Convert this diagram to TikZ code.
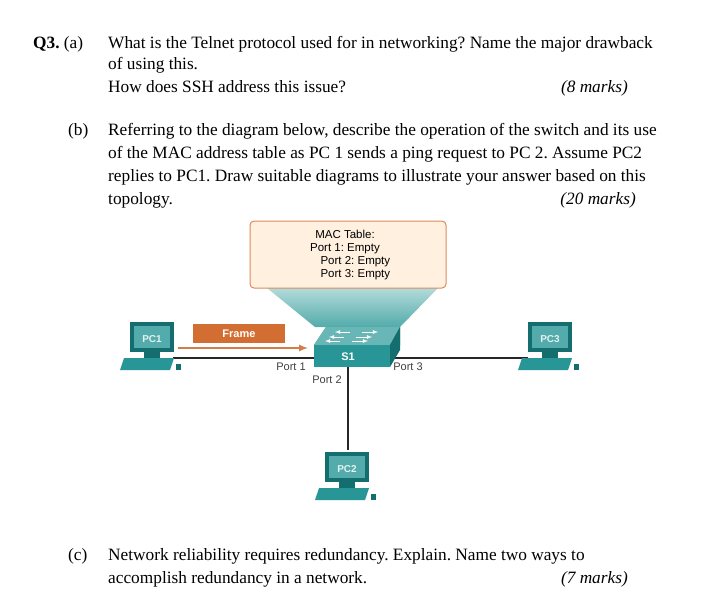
\documentclass[tikz,border=0pt]{standalone}
\usepackage{fontspec}
\setmainfont{Liberation Serif}
\newfontfamily\sansf{Liberation Sans}
\begin{document}
\frenchspacing
\begin{tikzpicture}[x=1pt,y=-1pt,
  q/.style={anchor=base west,inner sep=0,font=\fontsize{17.3}{20}\selectfont},
  mk/.style={anchor=base east,inner sep=0,font=\fontsize{17.3}{20}\selectfont\itshape},
  lbl/.style={font=\sansf\fontsize{11}{12}\selectfont,text=black!75,inner sep=0},
  pcl/.style={font=\sansf\bfseries\fontsize{10}{11}\selectfont,text=white!90!teal,inner sep=0}]
\definecolor{tl}{RGB}{40,150,150}
\definecolor{tld}{RGB}{20,110,112}
\definecolor{org}{RGB}{210,110,50}
\useasboundingbox (0,0) rectangle (723,600);
\fill[white] (0,0) rectangle (723,600);
% text
\node[q] (q3) at (33,48) {\textbf{Q3.} (a)};
\node[q] (a1) at (108,48) {What is the Telnet protocol used for in networking? Name the major drawback};
\node[q] (a2) at (108,69) {of using this.};
\node[q] (a3) at (108,92) {How does SSH address this issue?};
\node[mk] (m8) at (628,92) {(8 marks)};
\node[q] (bl) at (68,135) {(b)};
\node[q] (b1) at (108,135) {Referring to the diagram below, describe the operation of the switch and its use};
\node[q] (b2) at (108,158) {of the MAC address table as PC 1 sends a ping request to PC 2. Assume PC2};
\node[q] (b3) at (108,181) {replies to PC1. Draw suitable diagrams to illustrate your answer based on this};
\node[q] (b4) at (108,204) {topology.};
\node[mk] (m20) at (636,204) {(20 marks)};
\node[q] (cl) at (68,560) {(c)};
\node[q] (c1) at (108,560) {Network reliability requires redundancy. Explain. Name two ways to};
\node[q] (c2) at (108,583) {accomplish redundancy in a network.};
\node[mk] (m7) at (628,583) {(7 marks)};
% cone
\shade[top color=tl!35,bottom color=tl!80] (267,288) -- (438,288) -- (400,327) -- (315,327) -- cycle;
% MAC box
\draw[org!80,line width=1pt,fill=orange!12,rounded corners=4pt] (250,221) rectangle (446,288);
\node[inner sep=0,align=center,font=\sansf\fontsize{11.5}{13}\selectfont] (mac) at (345,255)
 {MAC Table:\\Port 1: Empty\\\hspace*{1.8em}Port 2: Empty\\\hspace*{1.8em}Port 3: Empty};
% links
\coordinate (p1) at (173,358); \coordinate (p3) at (528,358);
\coordinate (p2) at (348,450);
\draw[line width=1.5pt,black!85] (p1) -- (p3);
\draw[line width=1.5pt,black!85] (348,366) -- (p2);
% switch
\fill[tld!90] (314,345) -- (326,327) -- (400,327) -- (400,345) -- cycle;
\fill[tl!70] (314,345) -- (326,327) -- (400,327) -- (390,345) -- cycle;
\fill[tl] (314,345) rectangle (390,367);
\fill[tld] (390,345) -- (400,327) -- (400,350) -- (390,367) -- cycle;
\foreach \yy/\dx in {332/0,337/-6,341/-10}{
  \draw[white,line width=0.8pt,-latex] (350+\dx,\yy) -- (335+\dx,\yy);
  \draw[white,line width=0.8pt,-latex] (362+\dx,\yy) -- (378+\dx,\yy);}
\node[font=\sansf\bfseries\fontsize{11}{12}\selectfont,text=white,inner sep=0] (s1) at (348,357) {S1};
% PCs
\foreach \n/\x/\y in {PC1/130/322,PC3/528/322,PC2/325/452}{
  \fill[tld] (\x,\y) rectangle ++(44,30);
  \fill[tl!80] (\x+4,\y+4) rectangle ++(36,22);
  \fill[tld] (\x+14,\y+30) rectangle ++(16,6);
  \fill[tl] (\x-6,\y+36) -- (\x+44,\y+36) -- (\x+40,\y+48) -- (\x-10,\y+48) -- cycle;
  \fill[tld] (\x+46,\y+42) rectangle ++(5,6);
  \node[pcl] (\n) at (\x+22,\y+17) {\n};}
% frame
\fill[org] (193,324) rectangle (285,343);
\node[font=\sansf\bfseries\fontsize{11}{12}\selectfont,text=white,inner sep=0] (fr) at (239,334) {Frame};
\coordinate (fa) at (178,348); \coordinate (fb) at (308,348);
\draw[org!90,line width=2pt,-latex] (fa) -- (fb);
% port labels
\node[lbl] (pt1) at (291,367) {Port 1};
\node[lbl] (pt2) at (327,380) {Port 2};
\node[lbl] (pt3) at (408,367) {Port 3};
\end{tikzpicture}
\end{document}
